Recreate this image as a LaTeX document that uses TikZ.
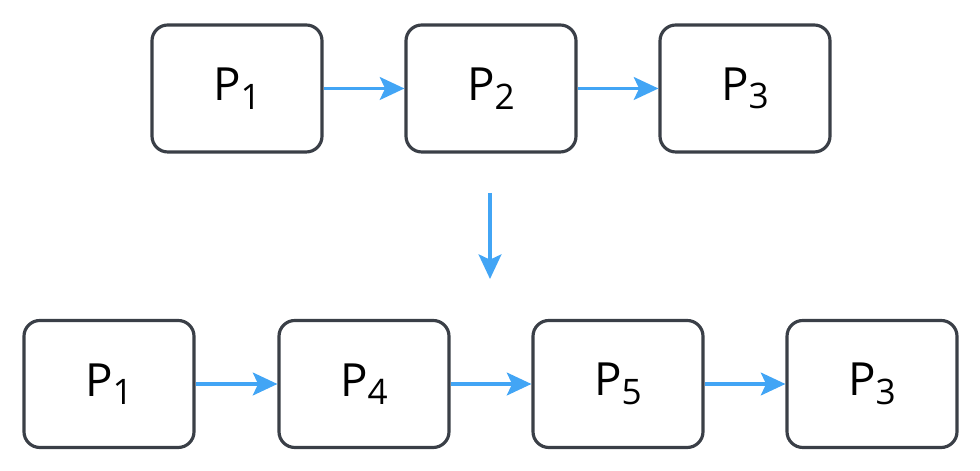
\documentclass[tikz,border=0pt]{standalone}
\usepackage{fontspec}
\setmainfont{Open Sans}
\usetikzlibrary{arrows.meta}
\definecolor{boxline}{HTML}{3A3F47}
\definecolor{arrowblue}{HTML}{42A5F5}
\newcommand{\sub}[1]{\raisebox{-0.35ex}{\fontsize{20}{24}\selectfont #1}}
\begin{document}
\begin{tikzpicture}
  \tikzstyle{proc}=[draw=boxline,line width=1.8pt,rounded corners=9pt,minimum width=3.4cm,minimum height=2.54cm,font=\fontsize{26}{30}\selectfont]
  \tikzstyle{link}=[-{Stealth[length=14pt,width=13pt,inset=3pt]},draw=arrowblue,line width=1.8pt]
  \useasboundingbox (0,0) rectangle (19.6,9.42);
  \node[proc] (T_1) at (4.74,7.65)  {P\sub{1}};
  \node[proc] (T_2) at (9.82,7.65)  {P\sub{2}};
  \node[proc] (T_3) at (14.9,7.65)  {P\sub{3}};
  \node[proc] (B_1) at (2.18,1.74)  {P\sub{1}};
  \node[proc] (B_4) at (7.28,1.74)  {P\sub{4}};
  \node[proc] (B_5) at (12.36,1.74) {P\sub{5}};
  \node[proc] (B_3) at (17.44,1.74) {P\sub{3}};
  \coordinate (M_a) at (9.8,5.56);
  \coordinate (M_b) at (9.8,3.84);
  \path (T_1) edge[link] (T_2)
        (T_2) edge[link] (T_3)
        (M_a) edge[link] (M_b)
        (B_1) edge[link] (B_4)
        (B_4) edge[link] (B_5)
        (B_5) edge[link] (B_3);
\end{tikzpicture}
\end{document}
